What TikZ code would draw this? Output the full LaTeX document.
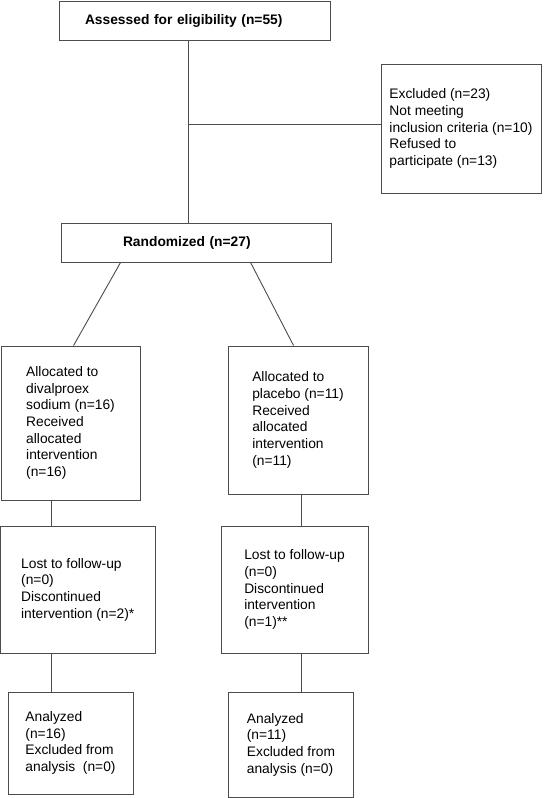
\documentclass[tikz,border=0pt]{standalone}
\usepackage{fontspec}
\setmainfont{Liberation Sans}
\usetikzlibrary{positioning,calc}

\begin{document}
\begin{tikzpicture}[
  x=1bp, y=-1bp,
  font=\fontsize{13.8bp}{16.7bp}\selectfont,
  link/.style={draw=black!70, line width=0.9bp},
  box/.style={link, align=left, inner sep=0pt},
  head/.style={box, font=\fontsize{13.8bp}{16.7bp}\selectfont\bfseries,
               minimum height=39bp},
]
\useasboundingbox (0,0) rectangle (545,798);
\node[head, text width=219bp, inner xsep=26bp] (assess) at (194.5,20.5)
  {Assessed for eligibility (n=55)};
\node[box, minimum width=160bp, minimum height=129bp] (excl) at (461,128.5)
  {Excluded (n=23)\\Not meeting\\inclusion criteria (n=10)\\Refused to\\participate (n=13)};
\node[head, text width=146bp, inner xsep=62bp] (rand) at (196,242.5)
  {Randomized (n=27)};
\node[box, minimum width=139bp, minimum height=154bp] (allocL) at (70.5,423)
  {Allocated to\\divalproex\\sodium (n=16)\\Received\\allocated\\intervention\\(n=16)};
\node[box, minimum width=140bp, minimum height=148bp] (allocR) at (298,420)
  {Allocated to\\placebo (n=11)\\Received\\allocated\\intervention\\(n=11)};
\node[box, minimum width=154.5bp, minimum height=127bp] (lostL) at (77.75,589.5)
  {Lost to follow-up\\(n=0)\\Discontinued\\intervention (n=2)*};
\node[box, minimum width=147bp, minimum height=127bp] (lostR) at (294.5,589.5)
  {Lost to follow-up\\(n=0)\\Discontinued\\intervention\\(n=1)**};
\node[box, minimum width=125bp, minimum height=102bp] (anaL) at (70.5,743)
  {Analyzed\\(n=16)\\Excluded from\\analysis\ \ (n=0)};
\node[box, minimum width=125.5bp, minimum height=105bp] (anaR) at (291,744.5)
  {Analyzed\\(n=11)\\Excluded from\\analysis (n=0)};
\coordinate (split) at (188,124);
\draw[link] (assess.south -| split) -- (rand.north -| split);
\draw[link] (split) -- (split -| excl.west);
\draw[link] ([xshift=60bp]rand.south west) -- ([xshift=73bp]allocL.north west);
\draw[link] ([xshift=190bp]rand.south west) -- ([xshift=66bp]allocR.north west);
\draw[link] ([xshift=51bp]allocL.south west) coordinate (l1) -- (l1 |- lostL.north);
\draw[link] ([xshift=74bp]allocR.south west) coordinate (r1) -- (r1 |- lostR.north);
\draw[link] ([xshift=51.5bp]lostL.south west) coordinate (l2) -- (l2 |- anaL.north);
\draw[link] ([xshift=81bp]lostR.south west) coordinate (r2) -- (r2 |- anaR.north);
\end{tikzpicture}
\end{document}
